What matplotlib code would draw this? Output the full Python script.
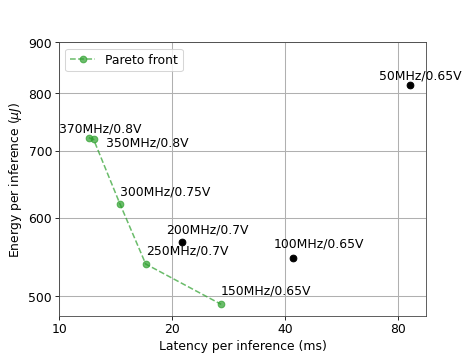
import matplotlib
matplotlib.use("Agg")
import matplotlib.pyplot as plt
from matplotlib.ticker import FixedLocator, NullLocator, FixedFormatter

plt.rcParams["font.size"] = 12

# Data
pareto_labels = ["370MHz/0.8V", "350MHz/0.8V", "300MHz/0.75V", "250MHz/0.7V", "150MHz/0.65V"]
pareto_latency = [12.0, 12.35, 14.5, 17.0, 27.0]
pareto_energy = [722, 719, 620, 539, 491]

other_labels = ["200MHz/0.7V", "100MHz/0.65V", "50MHz/0.65V"]
other_latency = [21.3, 41.9, 85.8]
other_energy = [567, 547, 815]

x_ticks = [10, 20, 40, 80]
y_ticks = [500, 600, 700, 800, 900]

# label offsets (points)
pareto_offsets = [(-29, 9), (12, -3), (0, 11), (0, 13), (0, 13)]
other_offsets = [(-16, 12), (-19, 13), (-30, 9)]

fig, ax = plt.subplots(figsize=(6.4, 4.8), dpi=74)

ax.plot(pareto_latency, pareto_energy, "o--", color="tab:green", alpha=0.7,
        markersize=6.5, label="Pareto front")
ax.plot(other_latency, other_energy, "ko", markersize=6.5)

for lab, x, y, off in zip(pareto_labels, pareto_latency, pareto_energy, pareto_offsets):
    ax.annotate(lab, (x, y), xytext=off, textcoords="offset points",
                ha="left", va="center")
for lab, x, y, off in zip(other_labels, other_latency, other_energy, other_offsets):
    ax.annotate(lab, (x, y), xytext=off, textcoords="offset points",
                ha="left", va="center")

ax.set_xscale("log")
ax.set_yscale("log")
ax.set_xlim(10, 95)
ax.set_ylim(478, 900)
ax.xaxis.set_major_locator(FixedLocator(x_ticks))
ax.xaxis.set_major_formatter(FixedFormatter([str(t) for t in x_ticks]))
ax.xaxis.set_minor_locator(NullLocator())
ax.yaxis.set_major_locator(FixedLocator(y_ticks))
ax.yaxis.set_major_formatter(FixedFormatter([str(t) for t in y_ticks]))
ax.yaxis.set_minor_locator(NullLocator())

ax.grid(True, color="#b0b0b0", linewidth=1.0)
for s in ax.spines.values():
    s.set_color("#404040")
ax.set_xlabel("Latency per inference (ms)")
ax.set_ylabel(r"Energy per inference ($\mu J$)")
ax.legend(loc="upper left")

fig.savefig("out.png", dpi=74)
